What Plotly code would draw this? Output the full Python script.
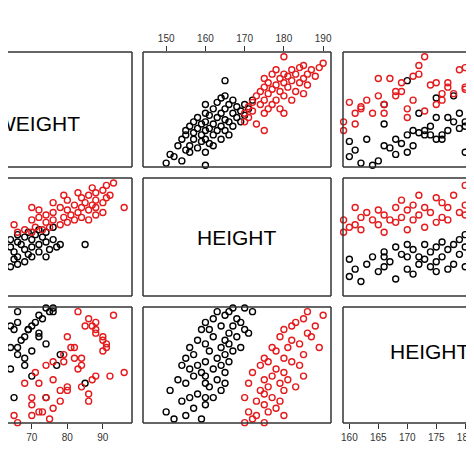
import plotly.graph_objects as go

# group 1 (black) : height, weight, height of partner
black_h = [150,151,152,153,154,154,155,155,155,156,156,156,157,157,157,158,158,158,159,159,159,
           160,160,160,160,160,160,160,161,161,161,162,162,162,162,163,163,163,164,164,164,164,
           165,165,165,165,165,166,166,166,166,167,167,167,168,168,169,169,170,170,171,172]
black_w = [47,51,50,55,48,58,53,60,62,55,64,52,58,61,66,54,63,68,57,60,65,
           46,52,58,62,66,70,74,56,63,69,60,65,72,55,62,68,75,58,64,70,77,
           62,67,72,78,85,45,60,66,74,64,70,76,68,73,66,71,69,74,72,76]
black_r = [162,168,160,171,165,175,161,170,177,166,174,180,163,172,178,167,182,175,160,173,185,
           164,170,176,181,187,172,166,169,179,185,174,166,183,188,171,177,190,168,180,186,175,
           173,182,189,178,170,184,176,190,181,186,179,191,183,188,180,187,185,191,184,190]

# group 2 (red)
red_h = [170,170,171,171,172,172,173,173,174,174,175,175,175,175,175,176,176,176,177,177,177,
         178,178,178,179,179,179,180,180,180,180,180,181,181,182,182,182,183,183,184,184,
         185,185,185,186,186,187,188,189,190]
red_w = [66,70,73,68,75,71,78,65,80,74,62,70,76,82,86,72,79,84,74,81,88,
         76,83,90,72,80,86,78,84,88,96,70,82,87,76,85,90,80,88,84,91,
         79,86,92,88,83,90,87,91,93]
red_r = [159,166,162,170,160,173,165,161,168,175,159,164,171,177,167,162,176,169,166,180,172,
         163,174,179,170,183,165,168,177,185,173,161,180,171,176,186,182,169,187,175,181,
         178,188,172,184,190,183,186,180,189]

labels = ["WEIGHT", "HEIGHT", "HEIGHT.R"]
W = 474.0
# panel extents in figure pixels (page has an 8px body margin)
col_px = [(0, 124), (135, 323), (335, 474)]
row_px = [(44, 159), (170, 288), (299, 415)]
xranges = {0: [63.3, 98.2], 1: [144.1, 192.0], 2: [158.9, 182.9]}
yranges = {0: [45.2, 98.2], 1: [144.1, 192.0], 2: [158.9, 191.3]}
full_col = [(-64, 124), (135, 323), (335, 523)]
# where the diagonal labels sit (partly cut off at the page edges)
label_pos = [(74, "right"), (229, "center"), (380, "left")]

data = {0: (black_w, red_w), 1: (black_h, red_h), 2: (black_r, red_r)}


def seg(fig, xa, ya, xb, yb):
    fig.add_shape(type="line", xref="paper", yref="paper",
                  x0=xa / W, x1=xb / W, y0=1 - ya / W, y1=1 - yb / W,
                  line=dict(color="#333", width=1.5))


fig = go.Figure()
layout = {}
n = 0
for r in range(3):
    for c in range(3):
        x0, x1 = full_col[c]
        y0, y1 = row_px[r]
        vx0, vx1 = max(x0, 0), min(x1, 474)
        seg(fig, vx0, y0, vx1, y0)
        seg(fig, vx0, y1, vx1, y1)
        if x0 >= 0:
            seg(fig, x0, y0, x0, y1)
        if x1 <= 474:
            seg(fig, x1, y0, x1, y1)
        if r == c:
            lx, anc = label_pos[r]
            fig.add_annotation(x=lx / W, y=1 - (y0 + y1) / 2 / W, xanchor=anc,
                               xref="paper", yref="paper", text=labels[r], showarrow=False,
                               font=dict(size=21, color="black", family="Liberation Sans"))
            if r != 2:
                continue
        n += 1
        xa = "x" if n == 1 else "x%d" % n
        ya = "y" if n == 1 else "y%d" % n
        if r != c:
            for g, col in zip(range(2), ["black", "#e41a1c"]):
                fig.add_trace(go.Scatter(x=data[c][g], y=data[r][g], mode="markers",
                                         xaxis=xa, yaxis=ya, showlegend=False, cliponaxis=False,
                                         marker=dict(symbol="circle-open", size=6, color=col,
                                                     line=dict(width=1.4))))
        else:
            # empty trace so the bottom axis of the last diagonal panel is drawn
            fig.add_trace(go.Scatter(x=[None], y=[None], xaxis=xa, yaxis=ya, showlegend=False))
        ticks = ""
        side = "bottom"
        if r == 0 and c == 1:
            ticks, side = "outside", "top"
        if r == 2 and c in (0, 2):
            ticks, side = "outside", "bottom"
        xkw = dict(domain=[col_px[c][0] / W, col_px[c][1] / W], range=xranges[c],
                   anchor=ya, showgrid=False, zeroline=False, showline=False, automargin=False,
                   ticks=ticks, side=side, showticklabels=bool(ticks), ticklen=5,
                   tickcolor="#333", tickfont=dict(size=10, color="#333", family="Liberation Sans"),
                   dtick=10 if c != 2 else 5)
        ykw = dict(domain=[1 - row_px[r][1] / W, 1 - row_px[r][0] / W], range=yranges[r],
                   anchor=xa, showgrid=False, zeroline=False, showline=False, automargin=False,
                   showticklabels=False)
        layout["xaxis" if n == 1 else "xaxis%d" % n] = xkw
        layout["yaxis" if n == 1 else "yaxis%d" % n] = ykw

fig.update_layout(**layout)
fig.update_layout(width=474, height=474, margin=dict(l=0, r=0, t=0, b=0),
                  paper_bgcolor="white", plot_bgcolor="white")
fig.write_html("out.html")
